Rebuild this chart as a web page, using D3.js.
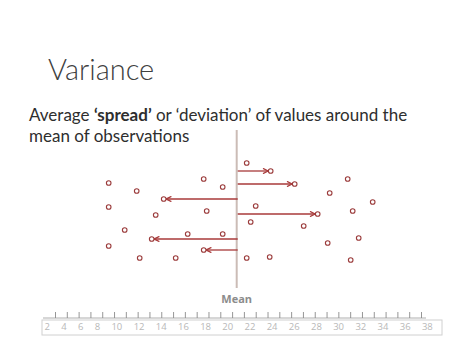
<!DOCTYPE html>
<html><head><meta charset="utf-8">
<script src="https://cdn.jsdelivr.net/npm/d3@7"></script>
<style>body{margin:0;background:#fff}svg{display:block}</style>
</head><body><svg id="c" width="474" height="355"></svg>
<script>
const titleText = "Variance";
const subtitleLine1 = [{t:"Average ", b:false},{t:"\u2018spread\u2019", b:true},{t:" or \u2018deviation\u2019 of values around the", b:false}];
const subtitleLine2 = "mean of observations";
const meanValue = 22;
const meanLabel = "Mean";
// observations (x in ruler units, y = row position)
const pointX = [9.2,12.0,9.2,13.9,10.8,9.2,12.3,15.9,18.7,20.6,19.0,17.1,20.6,23.0,23.9,23.4,23.0,25.3,33.1,31.3,35.6,33.6,28.7,34.2,31.1,33.4];
const pointY = [3.3,4.1,5.7,6.5,8.0,9.6,10.8,10.8,2.9,3.7,6.1,8.4,8.4,1.3,5.6,7.2,10.8,10.7,2.9,4.3,5.2,6.1,7.6,8.8,9.3,11.0];
// observations shown with deviation arrows from the mean
const arrowX = [14.7,13.5,18.7,25.4,27.8,30.1];
const arrowY = [4.9,8.9,10.0,2.1,3.4,6.4];
const rulerLabels = [2,4,6,8,10,12,14,16,18,20,22,24,26,28,30,32,34,36,38];
const rulerTicks = d3.range(32);

const svg = d3.select("#c");
const x = d3.scaleLinear().domain([0,40]).range([16.7,416.7]);
const y = d3.scaleLinear().domain([-2,13.8]).range([130,288]);
const red = "#a83a3a";

// title
svg.append("text").attr("x",48).attr("y",80).attr("font-family","Lato, 'Open Sans', sans-serif")
  .attr("font-weight",300).attr("font-size",29).attr("fill","#404040").text(titleText);

const st = svg.append("text").attr("x",29).attr("y",121).attr("font-family","Lato, 'Open Sans', sans-serif")
  .attr("font-size",17).attr("fill","#2e2e2e");
st.selectAll("tspan").data(subtitleLine1).join("tspan").attr("font-weight",d=>d.b?700:400).text(d=>d.t);
svg.append("text").attr("x",29).attr("y",141.5).attr("font-family","Lato, 'Open Sans', sans-serif")
  .attr("font-size",17).attr("fill","#2e2e2e").text(subtitleLine2);

// arrow marker
svg.append("defs").append("marker").attr("id","ah").attr("viewBox","0 0 10 10").attr("refX",9).attr("refY",5)
  .attr("markerWidth",5).attr("markerHeight",5).attr("orient","auto-start-reverse")
  .append("path").attr("d","M1,1 L9,5 L1,9").attr("fill","none").attr("stroke",red).attr("stroke-width",2);

// mean line
svg.append("line").attr("x1",x(meanValue)).attr("x2",x(meanValue)).attr("y1",y.range()[0]).attr("y2",y.range()[1])
  .attr("stroke","#cbbcb6").attr("stroke-width",2);

const arrows = arrowX.map((v,i)=>({x:v,y:arrowY[i]}));
svg.selectAll("line.dev").data(arrows).join("line").attr("class","dev")
  .attr("x1",x(meanValue)+1).attr("y1",d=>y(d.y))
  .attr("x2",d=>x(d.x) + (d.x>meanValue?-2.5:2.5)).attr("y2",d=>y(d.y))
  .attr("stroke",red).attr("stroke-width",1.3).attr("marker-end","url(#ah)");

const pts = pointX.map((v,i)=>({x:v,y:pointY[i]})).concat(arrows);
svg.selectAll("circle.pt").data(pts).join("circle").attr("class","pt")
  .attr("cx",d=>x(d.x)).attr("cy",d=>y(d.y)).attr("r",2.3)
  .attr("fill","#fff").attr("stroke","#9a3a3a").attr("stroke-width",1.1);

svg.append("text").attr("x",x(meanValue)).attr("y",303).attr("text-anchor","middle")
  .attr("font-family","'Open Sans', sans-serif").attr("font-weight",700).attr("font-size",11)
  .attr("fill","#8c8c8c").text(meanLabel);

// ruler
svg.append("line").attr("x1",43).attr("x2",426).attr("y1",318).attr("y2",318).attr("stroke","#9a9a9a").attr("stroke-width",0.8);
const tk = d3.scaleLinear().domain([0,31]).range([55,421]);
svg.append("g").attr("transform","translate(0,318)")
  .call(d3.axisTop(tk).tickValues(rulerTicks).tickSize(6).tickFormat(""))
  .call(g=>g.select(".domain").remove())
  .call(g=>g.selectAll("line").attr("stroke","#8a8a8a").attr("stroke-width",0.9));
svg.append("rect").attr("x",42).attr("y",320).attr("width",400).attr("height",15)
  .attr("fill","none").attr("stroke","#d0d0d0").attr("stroke-width",1);
const lg = svg.append("g").attr("font-family","'Open Sans', sans-serif").attr("font-size",9.5).attr("fill","#b8b8b8");
let cx = 44.5;
rulerLabels.forEach(v=>{
  const t = lg.append("text").attr("x",cx).attr("y",330).text(v);
  cx += t.node().getComputedTextLength() + 11.3;
});
</script></body></html>
